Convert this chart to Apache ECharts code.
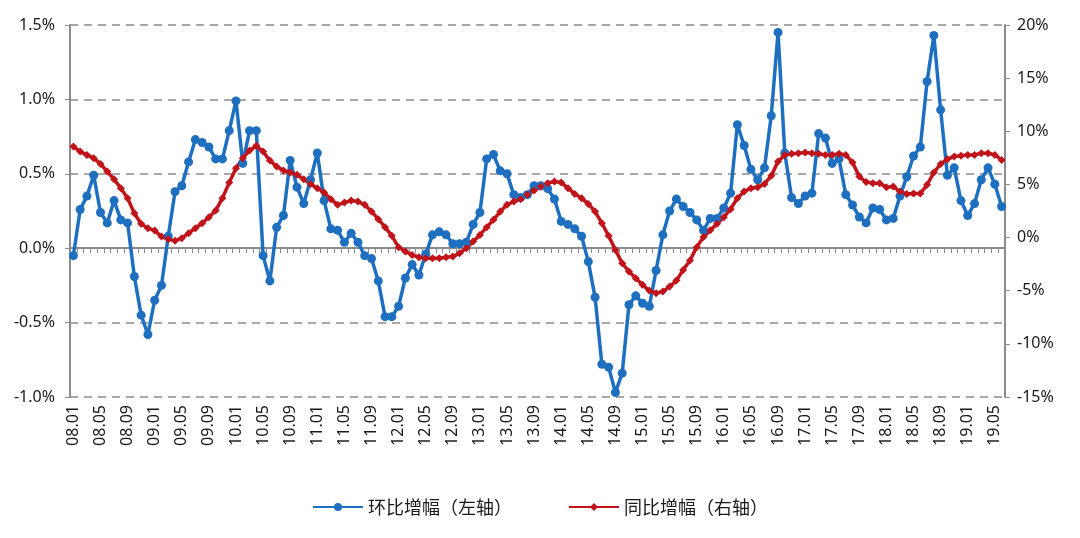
<!DOCTYPE html>
<html>
<head>
<meta charset="utf-8">
<script src="https://cdn.jsdelivr.net/npm/echarts@6/dist/echarts.min.js"></script>
<style>
  html, body { margin: 0; padding: 0; background: #fff; }
  #chart { width: 1080px; height: 538px; }
</style>
</head>
<body>
<div id="chart"></div>
<script>
// months 08.01 .. 19.06
const months = [
  "08.01","08.02","08.03","08.04","08.05","08.06","08.07","08.08","08.09","08.10","08.11","08.12",
  "09.01","09.02","09.03","09.04","09.05","09.06","09.07","09.08","09.09","09.10","09.11","09.12",
  "10.01","10.02","10.03","10.04","10.05","10.06","10.07","10.08","10.09","10.10","10.11","10.12",
  "11.01","11.02","11.03","11.04","11.05","11.06","11.07","11.08","11.09","11.10","11.11","11.12",
  "12.01","12.02","12.03","12.04","12.05","12.06","12.07","12.08","12.09","12.10","12.11","12.12",
  "13.01","13.02","13.03","13.04","13.05","13.06","13.07","13.08","13.09","13.10","13.11","13.12",
  "14.01","14.02","14.03","14.04","14.05","14.06","14.07","14.08","14.09","14.10","14.11","14.12",
  "15.01","15.02","15.03","15.04","15.05","15.06","15.07","15.08","15.09","15.10","15.11","15.12",
  "16.01","16.02","16.03","16.04","16.05","16.06","16.07","16.08","16.09","16.10","16.11","16.12",
  "17.01","17.02","17.03","17.04","17.05","17.06","17.07","17.08","17.09","17.10","17.11","17.12",
  "18.01","18.02","18.03","18.04","18.05","18.06","18.07","18.08","18.09","18.10","18.11","18.12",
  "19.01","19.02","19.03","19.04","19.05","19.06"
];

// 环比增幅 (%), left axis
const momChange = [
  -0.05, 0.26, 0.35, 0.49, 0.24, 0.17, 0.32, 0.19, 0.17, -0.19, -0.45, -0.58,
  -0.35, -0.25, 0.08, 0.38, 0.42, 0.58, 0.73, 0.71, 0.68, 0.60, 0.60, 0.79,
  0.99, 0.57, 0.79, 0.79, -0.05, -0.22, 0.14, 0.22, 0.59, 0.41, 0.30, 0.46,
  0.64, 0.32, 0.13, 0.12, 0.04, 0.10, 0.04, -0.05, -0.07, -0.22, -0.46, -0.46,
  -0.39, -0.20, -0.11, -0.18, -0.04, 0.09, 0.11, 0.09, 0.03, 0.03, 0.04, 0.16,
  0.24, 0.60, 0.63, 0.52, 0.50, 0.36, 0.34, 0.36, 0.42, 0.42, 0.40, 0.33,
  0.18, 0.16, 0.13, 0.08, -0.09, -0.33, -0.78, -0.80, -0.97, -0.84, -0.38, -0.32,
  -0.37, -0.39, -0.15, 0.09, 0.25, 0.33, 0.28, 0.24, 0.19, 0.12, 0.20, 0.20,
  0.27, 0.37, 0.83, 0.69, 0.53, 0.46, 0.54, 0.89, 1.45, 0.64, 0.34, 0.30,
  0.35, 0.37, 0.77, 0.74, 0.57, 0.60, 0.36, 0.29, 0.21, 0.17, 0.27, 0.26,
  0.19, 0.20, 0.35, 0.48, 0.62, 0.68, 1.12, 1.43, 0.93, 0.49, 0.54, 0.32,
  0.22, 0.30, 0.46, 0.54, 0.43, 0.28
];

// 同比增幅 (%), right axis
const yoyChange = [
  8.56, 8.09, 7.78, 7.47, 6.93, 6.21, 5.49, 4.65, 3.71, 2.29, 1.29, 0.88,
  0.66, 0.09, -0.15, -0.31, -0.06, 0.41, 0.88, 1.35, 1.92, 2.54, 3.71, 5.17,
  6.53, 7.47, 8.19, 8.63, 8.09, 7.25, 6.68, 6.31, 6.12, 5.90, 5.49, 5.05,
  4.65, 4.23, 3.61, 3.08, 3.29, 3.48, 3.39, 3.08, 2.45, 1.73, 0.98, 0.16,
  -0.90, -1.32, -1.63, -1.85, -1.94, -1.94, -1.94, -1.85, -1.79, -1.47, -1.00, -0.38,
  0.25, 0.98, 1.67, 2.45, 3.08, 3.39, 3.61, 4.02, 4.42, 4.80, 5.12, 5.27,
  5.18, 4.65, 4.11, 3.71, 3.17, 2.45, 1.35, 0.16, -1.16, -2.41, -3.20, -3.82,
  -4.45, -4.99, -5.23, -5.08, -4.61, -4.05, -3.04, -2.16, -0.90, 0.05, 0.69, 1.29,
  1.92, 2.67, 3.71, 4.33, 4.65, 4.74, 5.05, 5.81, 7.15, 7.78, 7.88, 7.94,
  8.00, 7.94, 7.88, 7.78, 7.78, 7.88, 7.78, 7.06, 5.74, 5.22, 5.12, 5.12,
  4.74, 4.80, 4.33, 4.11, 4.15, 4.15, 4.96, 6.12, 6.93, 7.38, 7.62, 7.69,
  7.78, 7.78, 7.94, 7.94, 7.78, 7.31
];

const leftTicks = { min: -1.0, max: 1.5, step: 0.5 };
const rightTicks = { min: -15, max: 20, step: 5 };

const BLUE = "#1F6FC0";
const RED = "#C0131A";
const AXIS_GRAY = "#8C8C8C";
const TEXT = "#1a1a1a";
const FONT = "'Noto Sans', 'Noto Sans CJK SC', sans-serif";

const chart = echarts.init(document.getElementById("chart"));

const option = {
  animation: false,
  backgroundColor: "#fff",
  textStyle: { fontFamily: FONT },
  grid: { left: 70, right: 75, top: 25, bottom: 141 },
  legend: {
    bottom: 17,
    left: "center",
    itemWidth: 50,
    itemHeight: 10,
    itemGap: 56,
    textStyle: { fontSize: 18, color: TEXT, fontFamily: "'Noto Sans CJK SC', sans-serif" },
    data: ["环比增幅（左轴）", "同比增幅（右轴）"]
  },
  xAxis: [
    {
      // labels along the bottom edge
      type: "category",
      data: months,
      position: "bottom",
      axisLine: { show: false, onZero: false },
      axisTick: { show: false },
      axisLabel: {
        interval: 3,
        rotate: 90,
        margin: 8,
        fontSize: 16,
        color: TEXT,
        fontFamily: FONT
      },
      splitLine: { show: false }
    },
    {
      // solid axis line running through 0 with minor ticks
      type: "category",
      data: months,
      position: "bottom",
      axisLine: { show: true, onZero: true, onZeroAxisIndex: 0, lineStyle: { color: AXIS_GRAY, width: 2 } },
      axisTick: { show: true, interval: 0, length: 5, lineStyle: { color: AXIS_GRAY, width: 1 } },
      axisLabel: { show: false },
      splitLine: { show: false }
    }
  ],
  yAxis: [
    {
      type: "value",
      min: leftTicks.min,
      max: leftTicks.max,
      interval: leftTicks.step,
      axisLine: { show: true, lineStyle: { color: AXIS_GRAY, width: 2 } },
      axisTick: { show: true, length: 5, lineStyle: { color: AXIS_GRAY } },
      axisLabel: {
        fontSize: 16,
        color: TEXT,
        margin: 15,
        formatter: (v) => v.toFixed(1) + "%"
      },
      splitLine: {
        show: true,
        lineStyle: { color: "#8C8C8C", width: 1.5, type: [8, 6] }
      }
    },
    {
      type: "value",
      min: rightTicks.min,
      max: rightTicks.max,
      interval: rightTicks.step,
      position: "right",
      axisLine: { show: true, lineStyle: { color: AXIS_GRAY, width: 2 } },
      axisTick: { show: true, length: 5, lineStyle: { color: AXIS_GRAY } },
      axisLabel: {
        fontSize: 16,
        color: TEXT,
        margin: 12,
        formatter: (v) => v + "%"
      },
      splitLine: { show: false }
    }
  ],
  series: [
    {
      name: "环比增幅（左轴）",
      type: "line",
      xAxisIndex: 0,
      yAxisIndex: 0,
      data: momChange,
      symbol: "circle",
      symbolSize: 9,
      showAllSymbol: true,
      lineStyle: { color: BLUE, width: 3.5 },
      itemStyle: { color: BLUE }
    },
    {
      name: "同比增幅（右轴）",
      type: "line",
      xAxisIndex: 0,
      yAxisIndex: 1,
      data: yoyChange,
      symbol: "diamond",
      symbolSize: 8,
      showAllSymbol: true,
      lineStyle: { color: RED, width: 3.5 },
      itemStyle: { color: RED }
    }
  ]
};

chart.setOption(option);
</script>
</body>
</html>
